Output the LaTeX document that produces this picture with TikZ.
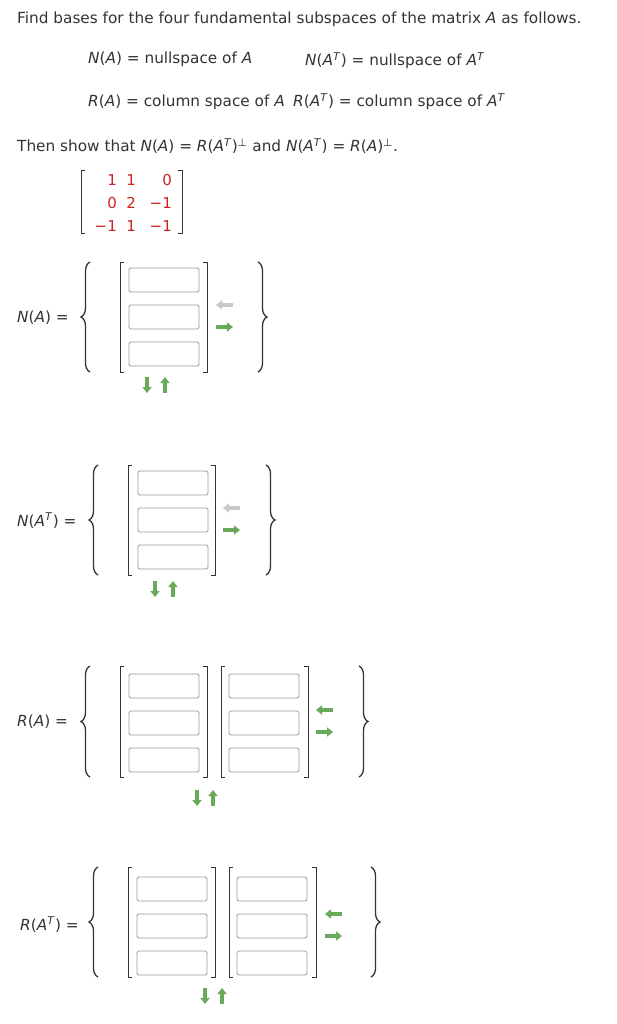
\documentclass[tikz,border=0pt]{standalone}
\usepackage{fontspec}
\setmainfont{DejaVu Sans}
\usetikzlibrary{decorations.pathreplacing,arrows.meta}
\definecolor{tx}{RGB}{51,51,51}
\definecolor{mred}{RGB}{204,34,34}
\definecolor{agreen}{RGB}{105,170,90}
\definecolor{agray}{RGB}{200,200,200}
\newcommand{\Tp}{\textsuperscript{\textit{T}}}
\tikzset{
 t/.style={anchor=base west,inner sep=0,text=tx,font=\fontsize{15.3}{18}\selectfont},
 ent/.style={anchor=base east,inner sep=0,text=mred,font=\fontsize{15}{18}\selectfont},
 ibox/.style={draw=gray!80,rounded corners=1.5pt,line width=0.8pt},
 brk/.style={draw=tx,line width=0.9pt},
 brc/.style={draw=tx,line width=1.3pt,decorate,decoration={brace,amplitude=9pt,aspect=0.5}},
 gar/.style={line width=3.5pt,-{Triangle[width=9pt,length=6pt]},draw=agreen},
 yar/.style={line width=3.5pt,-{Triangle[width=9pt,length=6pt]},draw=agray},
}
\newcommand{\lbr}[3]{\draw[brk] (#1+4,#2)--(#1,#2)--(#1,#3)--(#1+4,#3);}
\newcommand{\rbr}[3]{\draw[brk] (#1-4,#2)--(#1,#2)--(#1,#3)--(#1-4,#3);}
\newcommand{\colbox}[2]{%
 \foreach \yy in {0,37,74}{\draw[ibox] (#1,#2+\yy) rectangle (#1+70,#2+\yy+24);}}
\begin{document}
\begin{tikzpicture}[x=1pt,y=-1pt]
\useasboundingbox (0,0) rectangle (616,1024);
\node[t] (l1) at (17,24) {Find bases for the four fundamental subspaces of the matrix \textit{A} as follows.};
\node[t] (d1) at (88,64) {\textit{N}(\textit{A}) = nullspace of \textit{A}};
\node[t] (d2) at (305,66) {\textit{N}(\textit{A}\Tp) = nullspace of \textit{A}\Tp};
\node[t] (d3) at (88,107) {\textit{R}(\textit{A}) = column space of \textit{A}};
\node[t] (d4) at (293,107) {\textit{R}(\textit{A}\Tp) = column space of \textit{A}\Tp};
\node[t] (l2) at (17,152) {Then show that \textit{N}(\textit{A}) = \textit{R}(\textit{A}\Tp)\textsuperscript{⊥} and \textit{N}(\textit{A}\Tp) = \textit{R}(\textit{A})\textsuperscript{⊥}.};
% matrix
\lbr{81}{170}{233}\rbr{182}{170}{233}
\node[ent] (m11) at (117,186) {1};\node[ent] (m12) at (136,186) {1};\node[ent] (m13) at (172,186) {0};
\node[ent] (m21) at (117,209) {0};\node[ent] (m22) at (136,209) {2};\node[ent] (m23) at (172,209) {−1};
\node[ent] (m31) at (117,232) {−1};\node[ent] (m32) at (136,232) {1};\node[ent] (m33) at (172,232) {−1};
% block 1
\node[t] (b1) at (17,322) {\textit{N}(\textit{A}) =};
\draw[brc] (90,372)--(90,262); \draw[brc] (258,262)--(258,372);
\lbr{120}{262}{372}\rbr{207}{262}{372}
\colbox{129}{268}
\draw[yar] (233,305)--(216,305); \draw[gar] (216,327)--(233,327);
\draw[gar] (147,377)--(147,393); \draw[gar] (165,393)--(165,377);
% block 2
\node[t] (b2) at (17,526) {\textit{N}(\textit{A}\Tp) =};
\draw[brc] (98,575)--(98,465); \draw[brc] (266,465)--(266,575);
\lbr{128}{465}{575}\rbr{215}{465}{575}
\colbox{138}{471}
\draw[yar] (240,508)--(223,508); \draw[gar] (223,530)--(240,530);
\draw[gar] (155,581)--(155,597); \draw[gar] (173,597)--(173,581);
% block 3
\node[t] (b3) at (17,726) {\textit{R}(\textit{A}) =};
\draw[brc] (90,777)--(90,666); \draw[brc] (359,666)--(359,777);
\lbr{120}{666}{777}\rbr{207}{666}{777}
\lbr{221}{666}{777}\rbr{308}{666}{777}
\colbox{129}{674}\colbox{229}{674}
\draw[gar] (333,710)--(316,710); \draw[gar] (316,732)--(333,732);
\draw[gar] (197,790)--(197,806); \draw[gar] (213,806)--(213,790);
% block 4
\node[t] (b4) at (20,930) {\textit{R}(\textit{A}\Tp) =};
\draw[brc] (98,977)--(98,867); \draw[brc] (371,867)--(371,977);
\lbr{128}{867}{977}\rbr{215}{867}{977}
\lbr{229}{867}{977}\rbr{316}{867}{977}
\colbox{137}{877}\colbox{237}{877}
\draw[gar] (342,914)--(325,914); \draw[gar] (325,936)--(342,936);
\draw[gar] (205,988)--(205,1004); \draw[gar] (222,1004)--(222,988);
\end{tikzpicture}
\end{document}
